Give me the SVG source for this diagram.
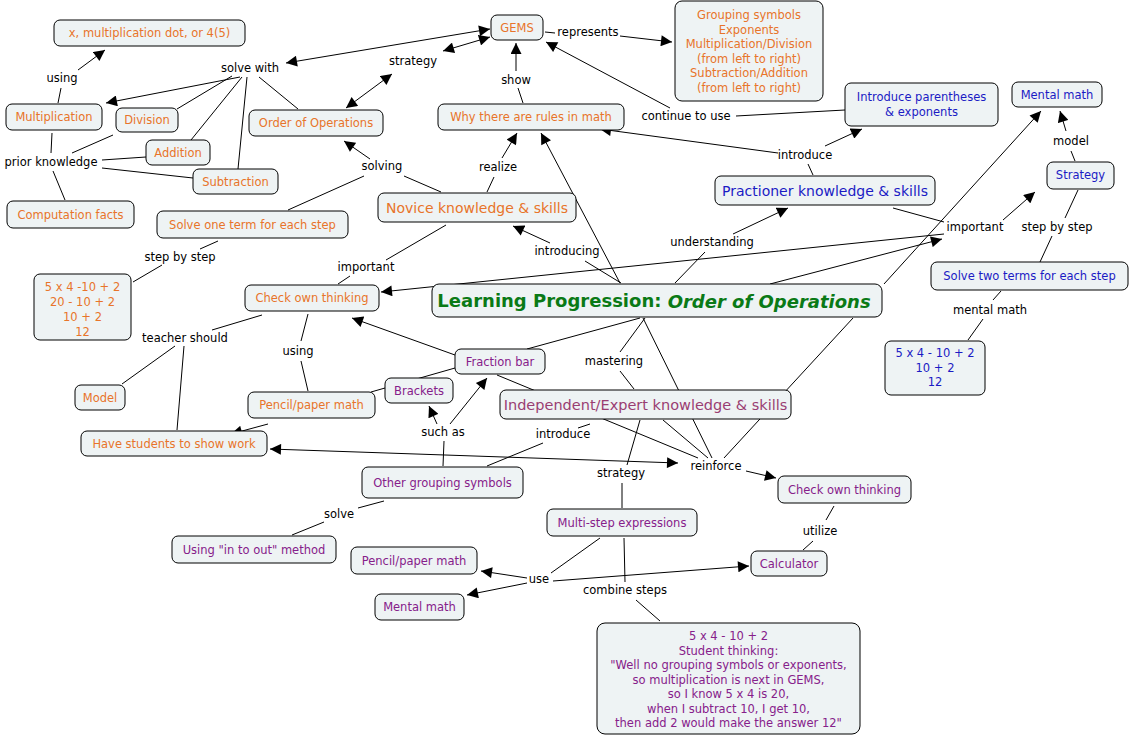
<svg xmlns="http://www.w3.org/2000/svg" width="1131" height="738" viewBox="0 0 1131 738">
<style>
text{font-family:"DejaVu Sans",Verdana,sans-serif;font-size:11.5px;text-anchor:middle;dominant-baseline:central}
.n rect{fill:#eef3f4;stroke:#000;stroke-width:1}
.o{fill:#e8742a}.b{fill:#1b1bc4}.p{fill:#86208a}.m{fill:#9a3e72}
.lbl{fill:#000}
.c line{stroke:#000;stroke-width:1}
.a{marker-end:url(#ah)}
.d{marker-end:url(#ah);marker-start:url(#ah)}
</style>
<defs>
<marker id="ah" viewBox="0 0 10 10" refX="10" refY="5" markerWidth="12" markerHeight="11" markerUnits="userSpaceOnUse" orient="auto-start-reverse"><path d="M0,0L10,5L0,10z" fill="#000"/></marker>
</defs>
<rect width="1131" height="738" fill="#fff"/>
<g id="connectors" class="c">
<line class="d" x1="286" y1="63" x2="490" y2="29"/>
<line x1="240" y1="77" x2="106" y2="103" class="a"/>
<line x1="232" y1="76" x2="177" y2="109"/>
<line x1="242" y1="77" x2="191" y2="140"/>
<line x1="247" y1="77" x2="238" y2="169"/>
<line x1="259" y1="77" x2="298" y2="109"/>
<line class="d" x1="346" y1="108" x2="392" y2="74"/>
<line class="d" x1="443" y1="51" x2="490" y2="37"/>
<line x1="58" y1="103" x2="61" y2="88"/>
<line class="a" x1="78" y1="70" x2="105" y2="50"/>
<line x1="52" y1="133" x2="51" y2="153"/>
<line x1="113" y1="135" x2="72" y2="153"/>
<line x1="146" y1="157" x2="102" y2="160"/>
<line x1="193" y1="178" x2="102" y2="168"/>
<line x1="53" y1="171" x2="65" y2="200"/>
<line x1="545" y1="32" x2="555" y2="33"/>
<line class="a" x1="620" y1="36" x2="672" y2="42"/>
<line x1="523" y1="103" x2="518" y2="88"/>
<line class="a" x1="516" y1="71" x2="516" y2="43"/>
<line x1="845" y1="110" x2="736" y2="116"/>
<line class="a" x1="670" y1="108" x2="546" y2="42"/>
<line x1="813" y1="175" x2="808" y2="164"/>
<line class="a" x1="778" y1="153" x2="600" y2="129"/>
<line class="a" x1="825" y1="146" x2="862" y2="129"/>
<line x1="441" y1="192" x2="404" y2="176"/>
<line class="a" x1="370" y1="159" x2="344" y2="141"/>
<line x1="364" y1="176" x2="288" y2="210"/>
<line x1="487" y1="192" x2="494" y2="177"/>
<line class="a" x1="502" y1="158" x2="517" y2="133"/>
<line class="a" x1="620" y1="283" x2="541" y2="133"/>
<line x1="621" y1="283" x2="585" y2="261"/>
<line class="a" x1="550" y1="243" x2="513" y2="226"/>
<line x1="675" y1="283" x2="705" y2="252"/>
<line class="a" x1="733" y1="234" x2="788" y2="208"/>
<line x1="893" y1="208" x2="944" y2="222"/>
<line class="a" x1="1003" y1="220" x2="1035" y2="192"/>
<line class="a" x1="944" y1="234" x2="381" y2="292"/>
<line class="a" x1="770" y1="284" x2="942" y2="239"/>
<line class="a" x1="884" y1="284" x2="1041" y2="111"/>
<line x1="1075" y1="161" x2="1071" y2="151"/>
<line class="a" x1="1066" y1="131" x2="1060" y2="111"/>
<line x1="1078" y1="190" x2="1065" y2="218"/>
<line x1="1052" y1="236" x2="1040" y2="262"/>
<line x1="1001" y1="291" x2="993" y2="300"/>
<line x1="983" y1="319" x2="968" y2="340"/>
<line x1="446" y1="225" x2="386" y2="260"/>
<line x1="350" y1="276" x2="338" y2="284"/>
<line x1="218" y1="241" x2="200" y2="249"/>
<line x1="162" y1="265" x2="133" y2="282"/>
<line x1="262" y1="315" x2="212" y2="330"/>
<line x1="175" y1="346" x2="122" y2="384"/>
<line x1="184" y1="346" x2="177" y2="430"/>
<line x1="308" y1="314" x2="301" y2="341"/>
<line x1="301" y1="361" x2="308" y2="391"/>
<line class="a" x1="268" y1="424" x2="231" y2="434"/>
<line class="a" x1="455" y1="355" x2="352" y2="318"/>
<line x1="640" y1="318" x2="527" y2="349"/>
<line x1="455" y1="368" x2="371" y2="392"/>
<line x1="645" y1="318" x2="620" y2="352"/>
<line x1="620" y1="371" x2="634" y2="389"/>
<line x1="643" y1="318" x2="712" y2="458"/>
<line x1="853" y1="318" x2="724" y2="458"/>
<line x1="497" y1="375" x2="698" y2="458"/>
<line x1="663" y1="420" x2="708" y2="458"/>
<line class="d" x1="270" y1="449" x2="678" y2="463"/>
<line class="a" x1="746" y1="471" x2="776" y2="478"/>
<line x1="590" y1="424" x2="578" y2="428"/>
<line x1="543" y1="443" x2="487" y2="466"/>
<line x1="640" y1="420" x2="627" y2="465"/>
<line x1="622" y1="483" x2="622" y2="508"/>
<line x1="443" y1="466" x2="444" y2="441"/>
<line class="a" x1="437" y1="424" x2="429" y2="406"/>
<line class="a" x1="450" y1="424" x2="487" y2="378"/>
<line x1="384" y1="501" x2="358" y2="508"/>
<line x1="324" y1="522" x2="292" y2="535"/>
<line x1="600" y1="538" x2="551" y2="573"/>
<line class="a" x1="527" y1="578" x2="481" y2="571"/>
<line class="a" x1="527" y1="583" x2="467" y2="595"/>
<line class="a" x1="553" y1="581" x2="749" y2="566"/>
<line x1="624" y1="538" x2="625" y2="582"/>
<line x1="636" y1="600" x2="660" y2="621"/>
<line x1="834" y1="506" x2="826" y2="520"/>
<line x1="813" y1="541" x2="803" y2="550"/>
</g>
<g id="labels" class="lbl">
<text x="588" y="32">represents</text>
<text x="250" y="68">solve with</text>
<text x="413" y="61">strategy</text>
<text x="516" y="80">show</text>
<text x="62" y="78">using</text>
<text x="51" y="162">prior knowledge</text>
<text x="382" y="166">solving</text>
<text x="498" y="167">realize</text>
<text x="686" y="116">continue to use</text>
<text x="805" y="155">introduce</text>
<text x="1071" y="141">model</text>
<text x="975" y="227">important</text>
<text x="1057" y="227">step by step</text>
<text x="712" y="242">understanding</text>
<text x="567" y="251">introducing</text>
<text x="180" y="257">step by step</text>
<text x="366" y="267">important</text>
<text x="990" y="310">mental math</text>
<text x="185" y="338">teacher should</text>
<text x="298" y="351">using</text>
<text x="614" y="361">mastering</text>
<text x="443" y="432">such as</text>
<text x="563" y="434">introduce</text>
<text x="716" y="466">reinforce</text>
<text x="621" y="473">strategy</text>
<text x="339" y="514">solve</text>
<text x="820" y="531">utilize</text>
<text x="539" y="579">use</text>
<text x="625" y="590">combine steps</text>
</g>
<g id="n-gems" class="n"><rect x="491" y="15" width="52" height="25" rx="6"/><text class="o" x="517" y="28">GEMS</text></g>
<g id="n-group" class="n"><rect x="675" y="1" width="148" height="100" rx="7"/><text class="o" x="749" y="15">Grouping symbols</text><text class="o" x="749" y="29.5">Exponents</text><text class="o" x="749" y="44">Multiplication/Division</text><text class="o" x="749" y="58.5">(from left to right)</text><text class="o" x="749" y="73">Subtraction/Addition</text><text class="o" x="749" y="87.5">(from left to right)</text></g>
<g id="n-xdot" class="n"><rect x="54" y="20" width="191" height="26" rx="6"/><text class="o" x="149.5" y="33">x, multiplication dot, or 4(5)</text></g>
<g id="n-mult" class="n"><rect x="6" y="104" width="96" height="26" rx="6"/><text class="o" x="54" y="117">Multiplication</text></g>
<g id="n-div" class="n"><rect x="116" y="108" width="62" height="24" rx="6"/><text class="o" x="147" y="120">Division</text></g>
<g id="n-ooo" class="n"><rect x="249" y="110" width="134" height="26" rx="6"/><text class="o" x="316" y="123">Order of Operations</text></g>
<g id="n-why" class="n"><rect x="438" y="104" width="186" height="26" rx="6"/><text class="o" x="531" y="117">Why there are rules in math</text></g>
<g id="n-add" class="n"><rect x="146" y="140" width="64" height="25" rx="6"/><text class="o" x="178" y="153">Addition</text></g>
<g id="n-sub" class="n"><rect x="193" y="169" width="85" height="25" rx="6"/><text class="o" x="235.5" y="182">Subtraction</text></g>
<g id="n-comp" class="n"><rect x="7" y="201" width="127" height="27" rx="6"/><text class="o" x="70.5" y="214.5">Computation facts</text></g>
<g id="n-solveone" class="n"><rect x="157" y="211" width="191" height="27" rx="6"/><text class="o" x="252.5" y="224.5">Solve one term for each step</text></g>
<g id="n-novice" class="n"><rect x="378" y="193" width="198" height="29" rx="6"/><text class="o" x="477" y="207.5" style="font-size:14px">Novice knowledge &amp; skills</text></g>
<g id="n-intropar" class="n"><rect x="845" y="83" width="153" height="43" rx="6"/><text class="b" x="921.5" y="97">Introduce parentheses</text><text class="b" x="921.5" y="112">&amp; exponents</text></g>
<g id="n-mentaltop" class="n"><rect x="1012" y="82" width="90" height="25" rx="6"/><text class="b" x="1057" y="95">Mental math</text></g>
<g id="n-strategy" class="n"><rect x="1047" y="162" width="67" height="27" rx="6"/><text class="b" x="1080.5" y="175">Strategy</text></g>
<g id="n-pract" class="n"><rect x="715" y="176" width="220" height="29" rx="6"/><text class="b" x="825" y="190.5" style="font-size:14px">Practioner knowledge &amp; skills</text></g>
<g id="n-solvetwo" class="n"><rect x="931" y="262" width="197" height="28" rx="6"/><text class="b" x="1029.5" y="276">Solve two terms for each step</text></g>
<g id="n-bluebox" class="n"><rect x="885" y="341" width="100" height="54" rx="6"/><text class="b" x="935" y="353">5 x 4 - 10 + 2</text><text class="b" x="935" y="367.5">10 + 2</text><text class="b" x="935" y="382">12</text></g>
<g id="n-orangebox" class="n"><rect x="34" y="274" width="97" height="66" rx="6"/><text class="o" x="82.5" y="287">5 x 4 -10 + 2</text><text class="o" x="82.5" y="302">20 - 10 + 2</text><text class="o" x="82.5" y="317">10 + 2</text><text class="o" x="82.5" y="332">12</text></g>
<g id="n-checko" class="n"><rect x="245" y="285" width="134" height="26" rx="6"/><text class="o" x="312" y="298">Check own thinking</text></g>
<g id="n-lp" class="n"><rect x="432" y="284" width="450" height="33" rx="7"/><text x="654" y="300.5" style="font-size:18px;font-weight:bold;fill:#0a7a16">Learning Progression: <tspan font-style="italic">Order of Operations</tspan></text></g>
<g id="n-frac" class="n"><rect x="455" y="349" width="90" height="25" rx="6"/><text class="p" x="500" y="362">Fraction bar</text></g>
<g id="n-model" class="n"><rect x="75" y="385" width="50" height="25" rx="6"/><text class="o" x="100" y="398">Model</text></g>
<g id="n-pencilo" class="n"><rect x="248" y="392" width="127" height="26" rx="6"/><text class="o" x="311.5" y="405">Pencil/paper math</text></g>
<g id="n-brackets" class="n"><rect x="385" y="378" width="68" height="25" rx="6"/><text class="p" x="419" y="391">Brackets</text></g>
<g id="n-indep" class="n"><rect x="500" y="390" width="291" height="29" rx="6"/><text class="m" x="645.5" y="404.5" style="font-size:14.5px">Independent/Expert knowledge &amp; skills</text></g>
<g id="n-have" class="n"><rect x="81" y="431" width="186" height="25" rx="6"/><text class="o" x="174" y="444">Have students to show work</text></g>
<g id="n-other" class="n"><rect x="362" y="467" width="161" height="31" rx="6"/><text class="p" x="442.5" y="483">Other grouping symbols</text></g>
<g id="n-checkp" class="n"><rect x="778" y="476" width="133" height="27" rx="6"/><text class="p" x="844.5" y="489.5">Check own thinking</text></g>
<g id="n-multi" class="n"><rect x="547" y="509" width="150" height="27" rx="6"/><text class="p" x="622" y="522.5">Multi-step expressions</text></g>
<g id="n-using" class="n"><rect x="172" y="536" width="164" height="27" rx="6"/><text class="p" x="254" y="549.5">Using "in to out" method</text></g>
<g id="n-pencilp" class="n"><rect x="351" y="547" width="126" height="27" rx="6"/><text class="p" x="414" y="560.5">Pencil/paper math</text></g>
<g id="n-calc" class="n"><rect x="751" y="551" width="76" height="25" rx="6"/><text class="p" x="789" y="564">Calculator</text></g>
<g id="n-mentalp" class="n"><rect x="375" y="594" width="89" height="26" rx="6"/><text class="p" x="419.5" y="607">Mental math</text></g>
<g id="n-student" class="n"><rect x="597" y="623" width="263" height="111" rx="8"/><text class="p" x="728.5" y="636">5 x 4 - 10 + 2</text><text class="p" x="728.5" y="650.5">Student thinking:</text><text class="p" x="728.5" y="665">"Well no grouping symbols or exponents,</text><text class="p" x="728.5" y="679.5">so multiplication is next in GEMS,</text><text class="p" x="728.5" y="694">so I know 5 x 4 is 20,</text><text class="p" x="728.5" y="708.5">when I subtract 10, I get 10,</text><text class="p" x="728.5" y="723">then add 2 would make the answer 12"</text></g>
</svg>
